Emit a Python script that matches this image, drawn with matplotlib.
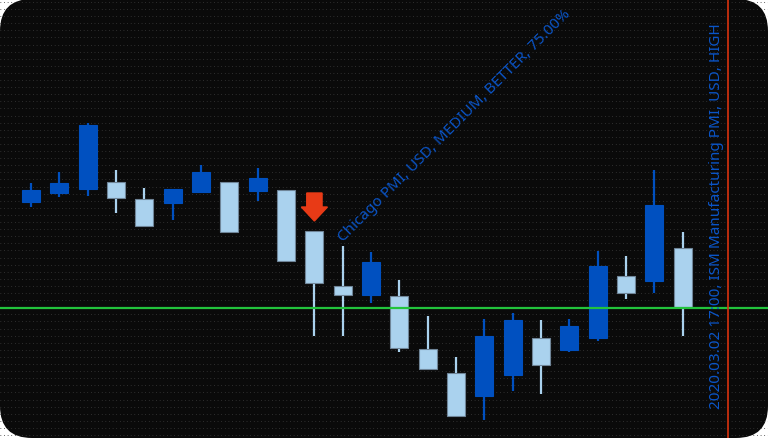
import numpy as np
import matplotlib.pyplot as plt
from matplotlib.patches import FancyBboxPatch

# candle values (chart units), 24 bars
opens  = [236, 245, 249, 256, 239, 235, 246, 256, 247, 248, 207, 152,
          143, 142, 89, 65, 42, 63, 100, 88, 100, 162, 157, 190]
highs  = [255, 266, 315, 268, 250, 249, 273, 256, 270, 248, 207, 192,
          186, 158, 122, 81, 119, 125, 118, 119, 187, 182, 268, 206]
lows   = [231, 241, 242, 225, 212, 218, 246, 206, 237, 177, 102, 102,
          135, 86, 69, 22, 18, 47, 44, 86, 97, 139, 145, 102]
closes = [248, 255, 313, 240, 212, 249, 266, 206, 260, 177, 155, 143,
          176, 90, 69, 22, 102, 118, 73, 112, 172, 145, 233, 131]

level = 130.5          # green horizontal line
event_x = 24.58        # red vertical line (event time)
signal_bar = 10        # bar with the red arrow

chicago_txt = 'Chicago PMI, USD, MEDIUM, BETTER, 75.00%'
ism_txt = '2020.03.02 17:00, ISM Manufacturing PMI, USD, HIGH'

DARK = '#0050C0'
LIGHT = '#AAD2EE'
BG = '#0A0A0A'

fig = plt.figure(figsize=(7.68, 4.39), dpi=100, facecolor='white')

# rounded black panel
panel = FancyBboxPatch((0, 0), 7.68, 4.39, boxstyle='round,pad=0,rounding_size=0.32',
                       transform=fig.dpi_scale_trans, facecolor=BG, edgecolor='none', zorder=0)
fig.add_artist(panel)

ax = fig.add_axes([0, 0, 1, 1])
ax.set_facecolor('none')
ax.set_xlim(-1.094, 26.006)
ax.set_ylim(0, 439)
ax.axis('off')

# dotted grid
for gy in np.arange(3, 439, 7.1):
    ax.axhline(gy, color='#3a3a3a', lw=0.72, ls=(0, (0.72, 2.9)), zorder=1)

w = 0.635
for i in range(len(opens)):
    o, h, l, c = opens[i], highs[i], lows[i], closes[i]
    bull = c > o
    col = DARK if bull else LIGHT
    ax.vlines(i, l, h, color=col, lw=1.6, zorder=3)
    lo, hi = min(o, c), max(o, c)
    ax.bar(i, hi - lo, bottom=lo, width=w, color=col,
           edgecolor=(DARK if bull else '#6F8598'), linewidth=0.8, zorder=4)

ax.axhline(level, color='#22C43C', lw=1.6, zorder=5)
ax.axvline(event_x, color='#D8320E', lw=1.2, zorder=5)

# red down arrow above the signal bar
tip = highs[signal_bar] + 10
sx = signal_bar
ax.fill([sx - 0.27, sx + 0.27, sx + 0.27, sx + 0.46, sx, sx - 0.46, sx - 0.27],
        [tip + 28, tip + 28, tip + 14, tip + 14, tip, tip + 14, tip + 14],
        color='#E83A16', zorder=6)

ax.text(14.95, 313.5, chicago_txt, rotation=45, ha='center', va='center',
        color='#0A55C8', fontsize=11, family='Noto Sans', zorder=6)
ax.text(24.2, 223, ism_txt, rotation=90, ha='center', va='center',
        color='#0A55C8', fontsize=11, family='Noto Sans', zorder=6)

fig.savefig('out.png', dpi=100, facecolor='white')
